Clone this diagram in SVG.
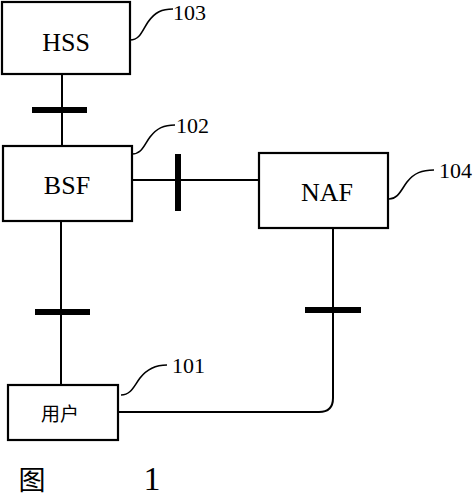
<svg xmlns="http://www.w3.org/2000/svg" width="474" height="496" viewBox="0 0 474 496">
<style>
.box{fill:#fff;stroke:#000;stroke-width:2.2}
.lbl{font-family:"Liberation Serif",serif;font-size:26px;text-anchor:middle;dominant-baseline:central;fill:#000}
.num{font-family:"Liberation Serif",serif;font-size:22px;fill:#000}
.cjk{font-family:"Noto Sans CJK SC",sans-serif;font-size:19px;text-anchor:middle;dominant-baseline:central;fill:#000}
.ln{fill:none;stroke:#000;stroke-width:2}
.bar{fill:none;stroke:#000;stroke-width:6}
.lead{fill:none;stroke:#000;stroke-width:1.6}
</style>
<g id="connectors">
<line class="ln" x1="62" y1="74" x2="62" y2="146"/>
<line class="bar" x1="32" y1="110" x2="87" y2="110"/>
<line class="ln" x1="132" y1="180" x2="259" y2="180"/>
<line class="bar" x1="178" y1="154" x2="178" y2="211"/>
<line class="ln" x1="61" y1="221" x2="61" y2="385"/>
<line class="bar" x1="35" y1="312" x2="90" y2="312"/>
<path class="ln" d="M333 228 V398 Q333 412 319 412 H118"/>
<line class="bar" x1="305" y1="310" x2="361" y2="310"/>
</g>
<g id="n103">
<rect class="box" x="2" y="2" width="128" height="72"/>
<text class="lbl" x="66" y="42">HSS</text>
<path class="lead" d="M130 40 C140 40 142 31 148 22 C155 12 162 9 173 9"/>
<text class="num" x="173" y="20">103</text>
</g>
<g id="n102">
<rect class="box" x="3" y="146" width="129" height="75"/>
<text class="lbl" x="67" y="185">BSF</text>
<path class="lead" d="M132 154 C142 154 144 145 150 137 C157 128 164 125 175 125"/>
<text class="num" x="176" y="133">102</text>
</g>
<g id="n104">
<rect class="box" x="259" y="153" width="129" height="75"/>
<text class="lbl" x="327" y="192">NAF</text>
<path class="lead" d="M389 199 C398 199 401 190 407 182 C414 173 422 170 434 170"/>
<text class="num" x="439" y="178">104</text>
</g>
<g id="n101">
<rect class="box" x="8" y="385" width="110" height="55"/>
<text class="cjk" x="60" y="412">用户</text>
<path class="lead" d="M121 395 C131 395 134 386 140 378 C147 369 155 365 167 365"/>
<text class="num" x="172" y="373">101</text>
</g>
<g id="caption">
<text x="32" y="478" style="font-family:'Noto Sans CJK SC',sans-serif;font-size:27px;text-anchor:middle;dominant-baseline:central">图</text>
<text x="152" y="490" style="font-family:'Liberation Serif',serif;font-size:34px;text-anchor:middle">1</text>
</g>
</svg>
